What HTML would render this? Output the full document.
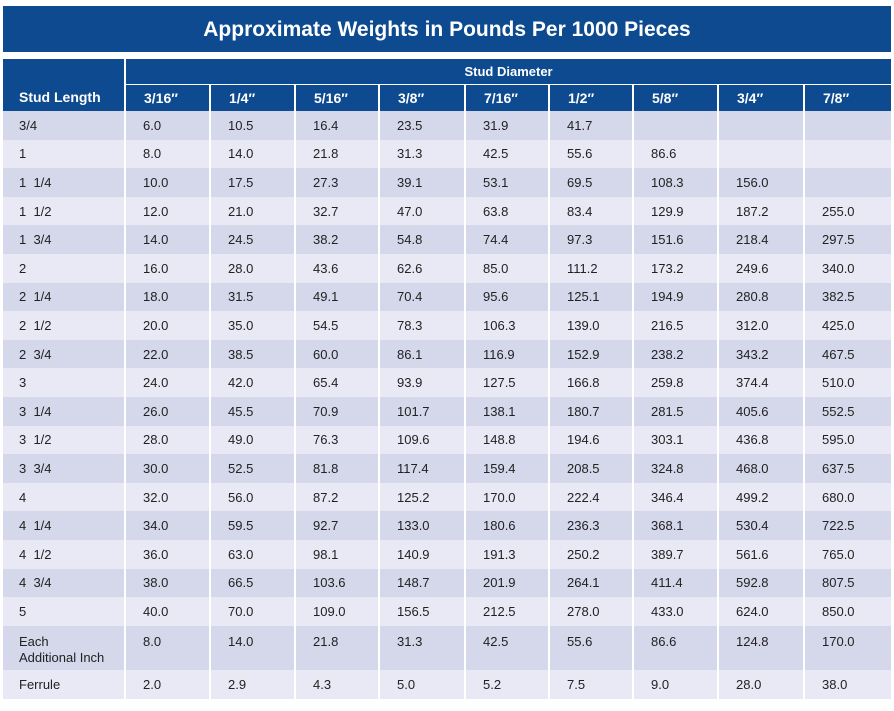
<!DOCTYPE html>
<html><head><meta charset="utf-8"><style>
body{margin:0;width:894px;height:711px;background:#fff;font-family:"Liberation Sans",sans-serif;position:relative;overflow:hidden}
.title{position:absolute;left:3px;top:6px;width:888px;height:46px;background:#0d4a8f;color:#fff;font-weight:bold;font-size:21px;text-align:center;line-height:48px}
table{position:absolute;left:3px;top:59px;border-collapse:collapse;table-layout:fixed;width:888px}
td,th{padding:0;border-right:2px solid #fff;font-size:13px;color:#222;text-align:left;font-weight:normal;box-sizing:border-box}
td{padding-left:17px}
td:first-child{padding-left:16px}
td:last-child,th:last-child{border-right:none}
th{background:#0d4a8f;color:#fff;font-weight:bold;font-size:14px;padding-left:18px}
tr.h1 th{height:25px;text-align:center;padding-left:0;font-size:13px;border-bottom:1.5px solid #fff}
tr.h2 th{height:27px}
th.sl{padding-left:16px !important;text-align:left !important;font-size:14px !important;border-bottom:none !important;vertical-align:bottom;padding-bottom:6px}
tr.d td{background:#d5d7eb}
tr.l td{background:#e8e9f5}
tr.r td{height:28.6px}
tr.e td{height:44px;vertical-align:top;padding-top:8px;line-height:16px}
tr.f td{height:29px}
</style></head><body>
<div class="title">Approximate Weights in Pounds Per 1000 Pieces</div>
<table>
<colgroup><col style="width:122px"><col style="width:85px"><col style="width:85px"><col style="width:84px"><col style="width:86px"><col style="width:84px"><col style="width:84px"><col style="width:85px"><col style="width:86px"><col style="width:87px"></colgroup>
<tr class="h1"><th rowspan="2" class="sl">Stud Length</th><th colspan="9">Stud Diameter</th></tr>
<tr class="h2"><th>3/16″</th><th>1/4″</th><th>5/16″</th><th>3/8″</th><th>7/16″</th><th>1/2″</th><th>5/8″</th><th>3/4″</th><th>7/8″</th></tr>
<tr class="r d"><td>3/4</td><td>6.0</td><td>10.5</td><td>16.4</td><td>23.5</td><td>31.9</td><td>41.7</td><td></td><td></td><td></td></tr>
<tr class="r l"><td>1</td><td>8.0</td><td>14.0</td><td>21.8</td><td>31.3</td><td>42.5</td><td>55.6</td><td>86.6</td><td></td><td></td></tr>
<tr class="r d"><td>1&nbsp;&nbsp;1/4</td><td>10.0</td><td>17.5</td><td>27.3</td><td>39.1</td><td>53.1</td><td>69.5</td><td>108.3</td><td>156.0</td><td></td></tr>
<tr class="r l"><td>1&nbsp;&nbsp;1/2</td><td>12.0</td><td>21.0</td><td>32.7</td><td>47.0</td><td>63.8</td><td>83.4</td><td>129.9</td><td>187.2</td><td>255.0</td></tr>
<tr class="r d"><td>1&nbsp;&nbsp;3/4</td><td>14.0</td><td>24.5</td><td>38.2</td><td>54.8</td><td>74.4</td><td>97.3</td><td>151.6</td><td>218.4</td><td>297.5</td></tr>
<tr class="r l"><td>2</td><td>16.0</td><td>28.0</td><td>43.6</td><td>62.6</td><td>85.0</td><td>111.2</td><td>173.2</td><td>249.6</td><td>340.0</td></tr>
<tr class="r d"><td>2&nbsp;&nbsp;1/4</td><td>18.0</td><td>31.5</td><td>49.1</td><td>70.4</td><td>95.6</td><td>125.1</td><td>194.9</td><td>280.8</td><td>382.5</td></tr>
<tr class="r l"><td>2&nbsp;&nbsp;1/2</td><td>20.0</td><td>35.0</td><td>54.5</td><td>78.3</td><td>106.3</td><td>139.0</td><td>216.5</td><td>312.0</td><td>425.0</td></tr>
<tr class="r d"><td>2&nbsp;&nbsp;3/4</td><td>22.0</td><td>38.5</td><td>60.0</td><td>86.1</td><td>116.9</td><td>152.9</td><td>238.2</td><td>343.2</td><td>467.5</td></tr>
<tr class="r l"><td>3</td><td>24.0</td><td>42.0</td><td>65.4</td><td>93.9</td><td>127.5</td><td>166.8</td><td>259.8</td><td>374.4</td><td>510.0</td></tr>
<tr class="r d"><td>3&nbsp;&nbsp;1/4</td><td>26.0</td><td>45.5</td><td>70.9</td><td>101.7</td><td>138.1</td><td>180.7</td><td>281.5</td><td>405.6</td><td>552.5</td></tr>
<tr class="r l"><td>3&nbsp;&nbsp;1/2</td><td>28.0</td><td>49.0</td><td>76.3</td><td>109.6</td><td>148.8</td><td>194.6</td><td>303.1</td><td>436.8</td><td>595.0</td></tr>
<tr class="r d"><td>3&nbsp;&nbsp;3/4</td><td>30.0</td><td>52.5</td><td>81.8</td><td>117.4</td><td>159.4</td><td>208.5</td><td>324.8</td><td>468.0</td><td>637.5</td></tr>
<tr class="r l"><td>4</td><td>32.0</td><td>56.0</td><td>87.2</td><td>125.2</td><td>170.0</td><td>222.4</td><td>346.4</td><td>499.2</td><td>680.0</td></tr>
<tr class="r d"><td>4&nbsp;&nbsp;1/4</td><td>34.0</td><td>59.5</td><td>92.7</td><td>133.0</td><td>180.6</td><td>236.3</td><td>368.1</td><td>530.4</td><td>722.5</td></tr>
<tr class="r l"><td>4&nbsp;&nbsp;1/2</td><td>36.0</td><td>63.0</td><td>98.1</td><td>140.9</td><td>191.3</td><td>250.2</td><td>389.7</td><td>561.6</td><td>765.0</td></tr>
<tr class="r d"><td>4&nbsp;&nbsp;3/4</td><td>38.0</td><td>66.5</td><td>103.6</td><td>148.7</td><td>201.9</td><td>264.1</td><td>411.4</td><td>592.8</td><td>807.5</td></tr>
<tr class="r l"><td>5</td><td>40.0</td><td>70.0</td><td>109.0</td><td>156.5</td><td>212.5</td><td>278.0</td><td>433.0</td><td>624.0</td><td>850.0</td></tr>
<tr class="e d"><td>Each<br>Additional Inch</td><td>8.0</td><td>14.0</td><td>21.8</td><td>31.3</td><td>42.5</td><td>55.6</td><td>86.6</td><td>124.8</td><td>170.0</td></tr>
<tr class="f l"><td>Ferrule</td><td>2.0</td><td>2.9</td><td>4.3</td><td>5.0</td><td>5.2</td><td>7.5</td><td>9.0</td><td>28.0</td><td>38.0</td></tr>
</table>
</body></html>
